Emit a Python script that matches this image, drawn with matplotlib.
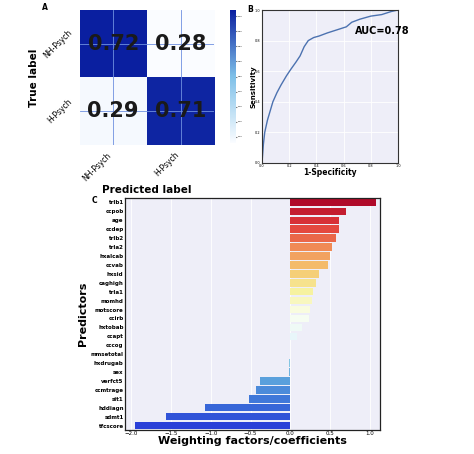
import matplotlib.pyplot as plt
import numpy as np
from matplotlib.colors import LinearSegmentedColormap

# Confusion matrix data
cm_labels = ["NH-Psych", "H-Psych"]
cm_values = np.array([[0.72, 0.28], [0.29, 0.71]])

# ROC curve points
fpr = [0.0, 0.005, 0.01, 0.02, 0.04, 0.06, 0.08, 0.11, 0.14, 0.18, 0.21, 0.25, 0.28,
       0.31, 0.34, 0.38, 0.42, 0.48, 0.55, 0.62, 0.66, 0.72, 0.8, 0.88, 0.95, 1.0]
tpr = [0.0, 0.06, 0.12, 0.2, 0.28, 0.34, 0.4, 0.46, 0.51, 0.57, 0.61, 0.66, 0.7,
       0.76, 0.8, 0.82, 0.83, 0.85, 0.87, 0.89, 0.92, 0.94, 0.96, 0.97, 0.99, 1.0]
auc = 0.78

# Predictor weights
predictors = ["trlb1", "ccpob", "age", "ccdep", "trlb2", "trla2", "hxalcab", "ccvab",
              "hxsid", "caghigh", "trla1", "momhd", "motscore", "ccirb", "hxtobab",
              "ccapt", "cccog", "mmsetotal", "hxdrugab", "sex", "verfct5", "ccmtrage",
              "sit1", "hddiagn", "sdmt1", "tfcscore"]
weights = [1.08, 0.70, 0.61, 0.61, 0.57, 0.52, 0.50, 0.48, 0.36, 0.32, 0.29, 0.28,
           0.25, 0.24, 0.15, 0.08, 0.0, 0.0, -0.01, -0.01, -0.38, -0.43, -0.52,
           -1.07, -1.57, -1.96]

bg = "#eeeef8"
fig = plt.figure(figsize=(4.74, 4.54), dpi=100)

# A: confusion matrix
cm_cmap = LinearSegmentedColormap.from_list("cmb", ["#fafcff", "#7ec0e8", "#0a1fa0"])
ax1 = fig.add_axes([79/474, 1-145/454, 136/474, 135/454])
im = ax1.imshow(cm_values, cmap=cm_cmap, vmin=0.28, vmax=0.72)
for i in range(2):
    for j in range(2):
        ax1.text(j, i, f"{cm_values[i, j]:.2f}", ha="center", va="center",
                 fontsize=15, fontweight="bold", color="#1a1a1a")
ax1.set_xticks([0, 1])
ax1.set_xticklabels(cm_labels, rotation=45, ha="right", fontsize=5.5)
ax1.set_yticks([0, 1])
ax1.set_yticklabels(cm_labels, rotation=45, va="center", fontsize=5.5)
for v in (0, 1):
    ax1.axhline(v, color="#6f90e0", lw=0.6)
    ax1.axvline(v, color="#6f90e0", lw=0.6)
ax1.tick_params(length=0, pad=4)
for s in ax1.spines.values():
    s.set_visible(False)
ax1.set_xlabel("Predicted label", fontsize=7.5, fontweight="bold", labelpad=2)
ax1.set_ylabel("True label", fontsize=7.5, fontweight="bold", labelpad=2)
cax = fig.add_axes([230/474, 1-143/454, 6/474, 133/454])
cb = fig.colorbar(im, cax=cax)
cb.ax.tick_params(labelsize=1.5, length=0.5, pad=1)
cb.outline.set_visible(False)
fig.text(42/474, 1-10/454, "A", fontsize=5.5, fontweight="bold")

# B: ROC
ax2 = fig.add_axes([262/474, 1-163/454, 136/474, 153/454])
ax2.set_facecolor(bg)
ax2.plot(fpr, tpr, color="#4c72b0", lw=1)
ax2.set_xlim(0, 1)
ax2.set_ylim(0, 1)
ax2.set_xticks(np.arange(0, 1.01, 0.2))
ax2.set_yticks(np.arange(0, 1.01, 0.2))
ax2.tick_params(labelsize=2.5, length=0, pad=1)
ax2.grid(color="white", lw=0.6)
ax2.set_axisbelow(True)
for s in ax2.spines.values():
    s.set_color("#333333")
    s.set_linewidth(0.8)
ax2.set_xlabel("1-Specificity", fontsize=5.5, fontweight="bold", labelpad=0)
ax2.set_ylabel("Sensitivity", fontsize=5, fontweight="bold", labelpad=-1)
ax2.text(0.68, 0.84, f"AUC={auc}", transform=ax2.transAxes, fontsize=7, fontweight="bold")
fig.text(247/474, 1-12/454, "B", fontsize=5.5, fontweight="bold")

# C: weights
bar_cmap = LinearSegmentedColormap.from_list(
    "bars", ["#b00a2a", "#e23a3a", "#f08a55", "#f5c870", "#f6f2a0", "#fafff0",
             "#e8f6fa", "#90d0e4", "#5aa0dc", "#3a70d8", "#2a40d8"])
ax3 = fig.add_axes([125/474, 1-430/454, 255/474, 232/454])
ax3.set_facecolor(bg)
y = np.arange(len(predictors))
colors = bar_cmap(np.linspace(0, 1, len(predictors)))
ax3.barh(y, weights, color=colors, height=0.85)
ax3.set_yticks(y)
ax3.set_yticklabels(predictors, fontsize=3.5, fontweight="bold")
ax3.set_ylim(len(predictors) - 0.5, -0.5)
ax3.set_xlim(-2.08, 1.13)
ax3.set_xticks(np.arange(-2, 1.01, 0.5))
ax3.tick_params(labelsize=4, length=0, pad=1)
ax3.grid(axis="x", color="white", lw=0.6)
ax3.set_axisbelow(True)
for s in ax3.spines.values():
    s.set_color("#222222")
    s.set_linewidth(0.9)
ax3.set_xlabel("Weighting factors/coefficients", fontsize=8, fontweight="bold", labelpad=0)
ax3.set_ylabel("Predictors", fontsize=8, fontweight="bold", labelpad=2)
fig.text(92/474, 1-203/454, "C", fontsize=5.5, fontweight="bold")

fig.savefig("out.png", dpi=100)
